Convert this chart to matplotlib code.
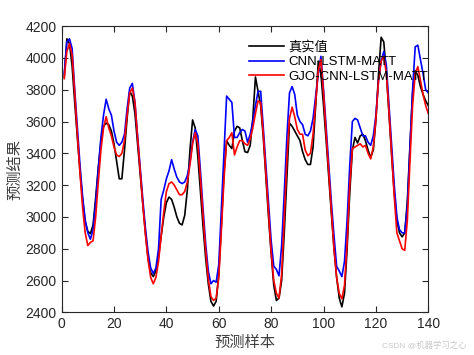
import matplotlib
matplotlib.use('Agg')
import matplotlib.pyplot as plt
import numpy as np

plt.rcParams['font.family'] = ['Liberation Sans', 'Noto Sans CJK SC']

# 预测样本 1..140
zhenshi = [3880, 4120, 4090, 3950, 3720, 3500, 3290, 3110, 2970, 2910,
           2895, 2950, 3120, 3310, 3470, 3570, 3590, 3580, 3540, 3460,
           3350, 3240, 3240, 3420, 3620, 3790, 3760, 3650, 3460, 3270,
           3080, 2900, 2740, 2650, 2625, 2660, 2750, 2880, 3000, 3090,
           3125, 3110, 3060, 3000, 2960, 2950, 3010, 3170, 3420, 3610,
           3560, 3380, 3160, 2940, 2740, 2580, 2470, 2440, 2470, 2640,
           2950, 3280, 3480, 3450, 3430, 3540, 3570, 3560, 3480, 3410,
           3405, 3450, 3620, 3880, 3790, 3700, 3500, 3250, 3000, 2770,
           2570, 2475, 2490, 2600, 2900, 3250, 3590, 3570, 3540, 3510,
           3480, 3410, 3360, 3330, 3330, 3440, 3700, 3980, 3900, 3700,
           3480, 3250, 3020, 2800, 2620, 2490, 2435, 2520, 2800, 3150,
           3420, 3500, 3465, 3510, 3520, 3480, 3420, 3375, 3420, 3610,
           3900, 4130, 4100, 3900, 3640, 3390, 3150, 2980, 2900, 2875,
           2900, 3100, 3450, 3780, 3920, 3890, 3820, 3770, 3730, 3700]

cnn_lstm = [3900, 4100, 4120, 4060, 3800, 3560, 3330, 3130, 2980, 2900,
            2860, 2920, 3090, 3300, 3500, 3640, 3740, 3680, 3640, 3540,
            3470, 3450, 3470, 3520, 3680, 3810, 3840, 3720, 3510, 3310,
            3110, 2930, 2780, 2680, 2645, 2680, 2800, 3110, 3170, 3240,
            3290, 3360, 3300, 3250, 3220, 3210, 3220, 3260, 3340, 3470,
            3550, 3510, 3290, 3050, 2830, 2660, 2580, 2600, 2590, 2700,
            3050, 3400, 3760, 3740, 3720, 3500, 3500, 3530, 3550, 3540,
            3470, 3520, 3600, 3700, 3790, 3790, 3560, 3320, 3070, 2850,
            2690, 2670, 2630, 2820, 3150, 3500, 3780, 3820, 3770, 3640,
            3600, 3580, 3520, 3510, 3540, 3620, 3760, 3900, 4010, 3800,
            3560, 3320, 3090, 2880, 2690, 2660, 2625, 2720, 2980, 3320,
            3600, 3620, 3610, 3560, 3510, 3510, 3470, 3450, 3510, 3640,
            3860, 3980, 4040, 3950, 3700, 3450, 3200, 3000, 2920, 2900,
            2900, 3070, 3430, 3800, 4070, 4080, 3990, 3900, 3800, 3780]

gjo_cnn_lstm = [3870, 4040, 4090, 4020, 3780, 3520, 3280, 3060, 2900, 2820,
                2840, 2850, 3000, 3220, 3420, 3560, 3630, 3560, 3510, 3440,
                3390, 3380, 3400, 3480, 3640, 3780, 3810, 3720, 3500, 3290,
                3080, 2890, 2730, 2620, 2580, 2620, 2720, 2880, 3030, 3160,
                3210, 3220, 3200, 3170, 3140, 3140, 3160, 3220, 3330, 3460,
                3530, 3460, 3240, 3010, 2790, 2610, 2500, 2475, 2490, 2620,
                2920, 3240, 3480, 3500, 3530, 3390, 3440, 3480, 3480, 3460,
                3450, 3490, 3560, 3650, 3730, 3720, 3520, 3270, 3020, 2780,
                2600, 2520, 2490, 2640, 2990, 3360, 3620, 3690, 3630, 3550,
                3520, 3520, 3420, 3385, 3400, 3520, 3720, 3920, 3990, 3780,
                3520, 3280, 3030, 2800, 2620, 2520, 2485, 2570, 2840, 3200,
                3430, 3440, 3450, 3460, 3440, 3450, 3400, 3365, 3440, 3620,
                3860, 3980, 4010, 3900, 3660, 3390, 3130, 2900, 2850, 2800,
                2790, 2980, 3350, 3700, 3900, 3945, 3860, 3770, 3700, 3650]

labels = ['真实值', 'CNN-LSTM-MATT', 'GJO-CNN-LSTM-MATT']
x = np.arange(1, len(zhenshi) + 1)

fig = plt.figure(figsize=(4.74, 3.55), dpi=100)
ax = fig.add_axes([0.130, 0.120, 0.7736, 0.8065])

ax.plot(x, zhenshi, color='k', lw=1.2, label=labels[0])
ax.plot(x, cnn_lstm, color='#0000ff', lw=1.2, label=labels[1])
ax.plot(x, gjo_cnn_lstm, color='#ff0000', lw=1.2, label=labels[2])

ax.set_xlim(0, 140)
ax.set_ylim(2400, 4200)
ax.set_xticks(np.arange(0, 141, 20))
ax.set_yticks(np.arange(2400, 4201, 200))
ax.tick_params(direction='in', top=True, right=True, length=4,
               labelsize=10, colors='#262626')
for s in ax.spines.values():
    s.set_color('#262626')
    s.set_linewidth(0.8)

ax.set_xlabel('预测样本', fontsize=11, family=['Noto Sans CJK SC'], color='#404040', labelpad=2)
ax.set_ylabel('预测结果', fontsize=11, family=['Noto Sans CJK SC'], color='#404040', labelpad=2)

ax.legend(loc='upper left', bbox_to_anchor=(0.51, 0.95), frameon=False,
          fontsize=9.5, handlelength=2.7, handletextpad=0.3,
          labelspacing=0.2, borderpad=0, borderaxespad=0)

fig.text(0.985, 0.015, 'CSDN @机器学习之心', fontsize=6, color='#c8c8c8',
         ha='right', va='bottom')

fig.savefig('out.png', dpi=100)
